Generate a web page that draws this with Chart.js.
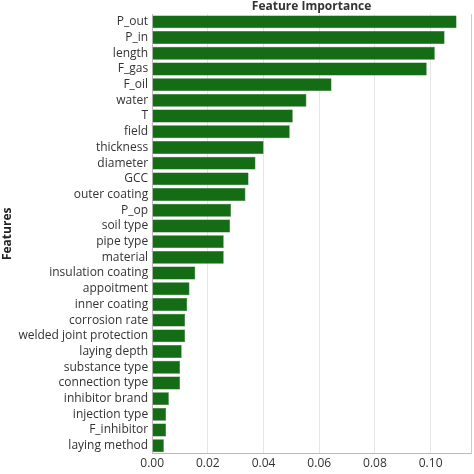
<!DOCTYPE html>
<html><head><script src="https://cdn.jsdelivr.net/npm/chart.js@4"></script>
<style>html,body{margin:0;padding:0;background:#fff}#w{width:474px;height:474px}</style></head>
<body><div id="w"><canvas id="c"></canvas></div>
<script>
const features=["P_out","P_in","length","F_gas","F_oil","water","T","field","thickness","diameter","GCC","outer coating","P_op","soil type","pipe type","material","insulation coating","appoitment","inner coating","corrosion rate","welded joint protection","laying depth","substance type","connection type","inhibitor brand","injection type","F_inhibitor","laying method"];
const importance=[0.1093,0.105,0.1015,0.0986,0.0644,0.0554,0.0505,0.0494,0.040,0.0371,0.0346,0.0335,0.0283,0.028,0.0257,0.0257,0.0155,0.0134,0.0126,0.0118,0.0118,0.0106,0.010,0.010,0.006,0.005,0.005,0.0042];
const tickValues=[0,0.02,0.04,0.06,0.08,0.10];
const titleText='Feature Importance';
const titlePlugin={id:'areaTitle',afterDraw(ch){const a=ch.chartArea,c=ch.ctx;c.save();c.font='bold 12px "Open Sans"';c.fillStyle='#333';c.textAlign='center';c.textBaseline='middle';c.fillText(titleText,(a.left+a.right)/2,7);
c.strokeStyle='#ccc';c.lineWidth=1;c.beginPath();c.moveTo(a.right+0.5,a.top);c.lineTo(a.right+0.5,a.bottom);c.stroke();c.restore();}};
new Chart(document.getElementById('c'),{type:'bar',
data:{labels:features,datasets:[{data:importance,backgroundColor:'#146c14',borderColor:'#0f5a0f',borderWidth:0.5,categoryPercentage:0.82,barPercentage:1}]},
options:{indexAxis:'y',responsive:true,maintainAspectRatio:false,animation:false,
layout:{padding:{top:14,right:3,bottom:0,left:0}},
plugins:{legend:{display:false},tooltip:{enabled:false},title:{display:false}},
scales:{x:{min:0,max:0.1145,afterBuildTicks:s=>{s.ticks=tickValues.map(v=>({value:v}));},
ticks:{callback:v=>v.toFixed(2),font:{family:'Open Sans',size:12},color:'#333',maxRotation:0},
grid:{color:'#e6e6e6',drawTicks:false},border:{color:'#bbb'}},
y:{ticks:{font:{family:'Open Sans',size:12},color:'#333',autoSkip:false,padding:4},
grid:{display:false,drawTicks:false},border:{color:'#bbb'},
title:{display:true,text:'Features',font:{family:'Open Sans',size:12,weight:'bold'},color:'#222',padding:0}}}},
plugins:[titlePlugin]});
</script></body></html>
